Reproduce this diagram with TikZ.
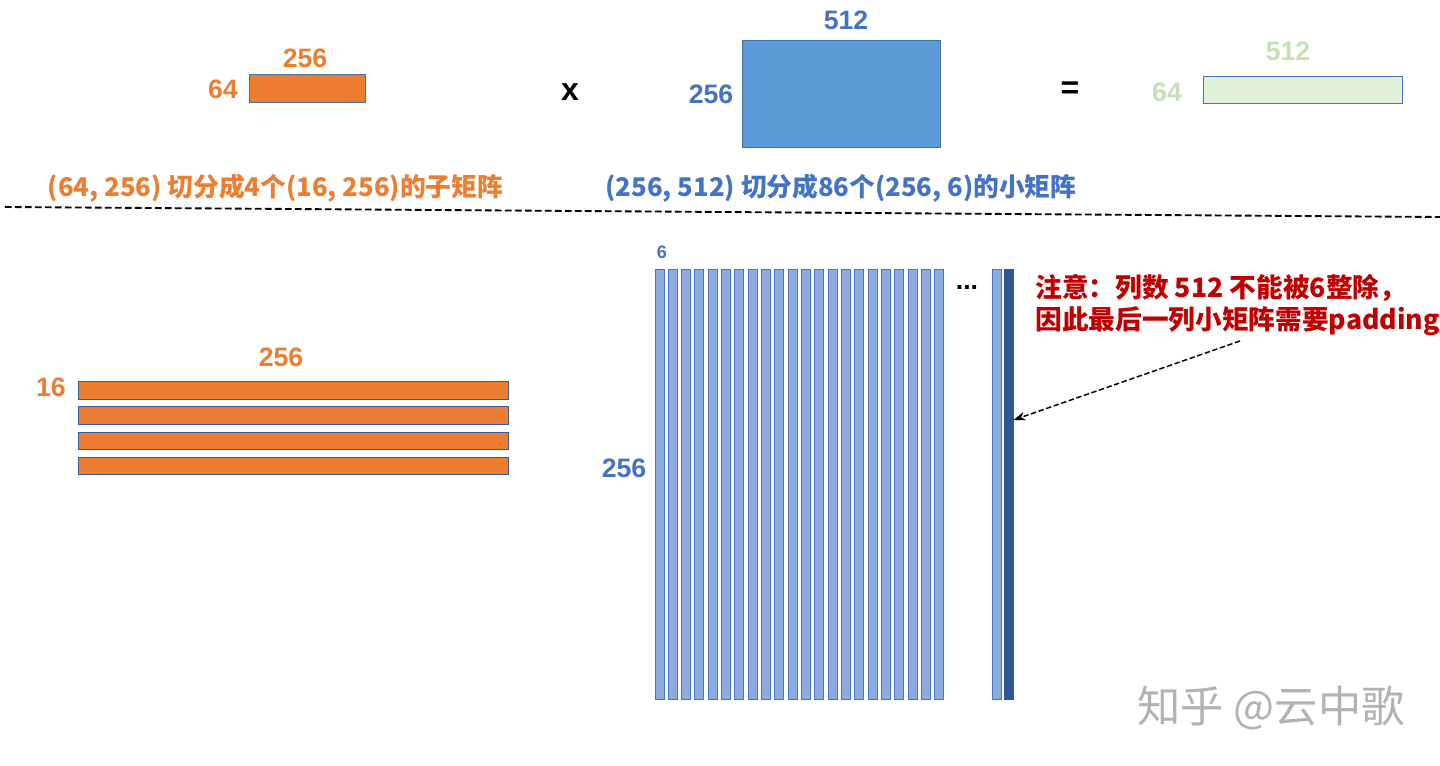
\documentclass[tikz,border=0pt]{standalone}
\usepackage{fontspec}
\setmainfont{Liberation Sans}
\newfontfamily\cjk{Noto Sans CJK SC}
\usetikzlibrary{arrows.meta,positioning}

\definecolor{mOrange}{HTML}{ED7D31}
\definecolor{mBlue}{HTML}{5B9BD5}
\definecolor{mEdge}{HTML}{41719C}
\definecolor{mText}{HTML}{4472C4}
\definecolor{mCol}{HTML}{8FAADC}
\definecolor{mDark}{HTML}{2F5597}
\definecolor{mGreen}{HTML}{E2F0D9}
\definecolor{mGreenText}{HTML}{C5E0B4}
\definecolor{mRed}{HTML}{C00000}

\tikzset{every picture/.style={line width=0.75pt}}
\tikzset{
  mat/.style={draw=mEdge, line width=0.75pt, inner sep=0pt},
  col/.style={mat, draw=mText, fill=mCol, minimum width=6.75pt, minimum height=321.75pt},
  bar/.style={mat, draw=mText!80!black, fill=mOrange, minimum width=322.5pt, minimum height=13.1pt},
  num/.style={font=\fontsize{20}{24}\selectfont\bfseries, inner sep=0pt},
  note/.style={font=\cjk\fontsize{19.3}{23}\selectfont\bfseries, inner sep=0pt}
}

\begin{document}
\begin{tikzpicture}[x=0.75pt,y=0.75pt,yscale=-1,xscale=1]
\useasboundingbox (0,0) rectangle (1440,766);

% top row: A x B = C
\node[mat, fill=mOrange, minimum width=87pt, minimum height=21pt] (matA) at (307,89) {};
\node[num, text=mOrange] (matAw) at (305,58) {256};
\node[num, text=mOrange] (matAh) at (223,89) {64};
\node[num, font=\fontsize{24}{28}\selectfont\bfseries] (times) at (570,92) {x};

\node[mat, fill=mBlue, minimum width=148.5pt, minimum height=80.25pt] (matB) at (841,94.5) {};
\node[num, text=mText] (matBw) at (846,20) {512};
\node[num, text=mText] (matBh) at (711,94) {256};
\node[num, font=\fontsize{24}{28}\selectfont\bfseries] (equals) at (1070,90) {=};

\node[mat, draw=mText, fill=mGreen, minimum width=149.25pt, minimum height=20.25pt] (matC) at (1302.5,90.5) {};
\node[num, text=mGreenText] (matCw) at (1288,51) {512};
\node[num, text=mGreenText] (matCh) at (1167,92) {64};

% captions
\node[note, text=mOrange] (capA) at (275.5,188) {(64, 256) 切分成4个(16, 256)的子矩阵};
\node[note, text=mText] (capB) at (841,188) {(256, 512) 切分成86个(256, 6)的小矩阵};

% separator
\coordinate (sepL) at (5,207);
\coordinate (sepR) at (1440,217);
\draw[dash pattern=on 5pt off 2.5pt, line width=1.4pt] (sepL) -- (sepR);

% split of A
\foreach \i in {0,...,3}
  \node[bar] (row\i) at (293,{390.5+25.2*\i}) {};
\node[num, text=mOrange] (rowW) at (281,357) {256};
\node[num, text=mOrange] (rowH) at (51,387) {16};

% split of B
\foreach \i in {0,...,21}
  \node[col] (col\i) at ({659.5+13.33*\i},484.5) {};
\node[col] (colN) at (996.5,484.5) {};
\node[col, fill=mDark, draw=mDark] (colPad) at (1008.5,484.5) {};
\node[num, text=mText, font=\fontsize{13.5}{16}\selectfont\bfseries] (colW) at (662,252) {6};
\node[num, font=\fontsize{20}{24}\selectfont\bfseries] (dots) at (967,288) {...};
\node[num, text=mText] (colH) at (624,468) {256};

% remark
\node[note, text=mRed, anchor=west, font=\cjk\fontsize{20}{24}\selectfont\bfseries] (remark1) at (1035,288) {注意：列数 512 不能被6整除，};
\node[note, text=mRed, anchor=west, font=\cjk\fontsize{20}{24}\selectfont\bfseries] (remark2) at (1035,321) {因此最后一列小矩阵需要padding};
\coordinate (tail) at (1240,341);
\draw[dash pattern=on 4pt off 2pt, line width=1.1pt, -{Stealth[length=9pt,width=6.5pt]}] (tail) -- (colPad.east |- 0,420);

% watermark
\node[font=\cjk\fontsize{32.5}{36}\selectfont, text=black!30] (mark) at (1271,708) {知乎 @云中歌};

\end{tikzpicture}
\end{document}
